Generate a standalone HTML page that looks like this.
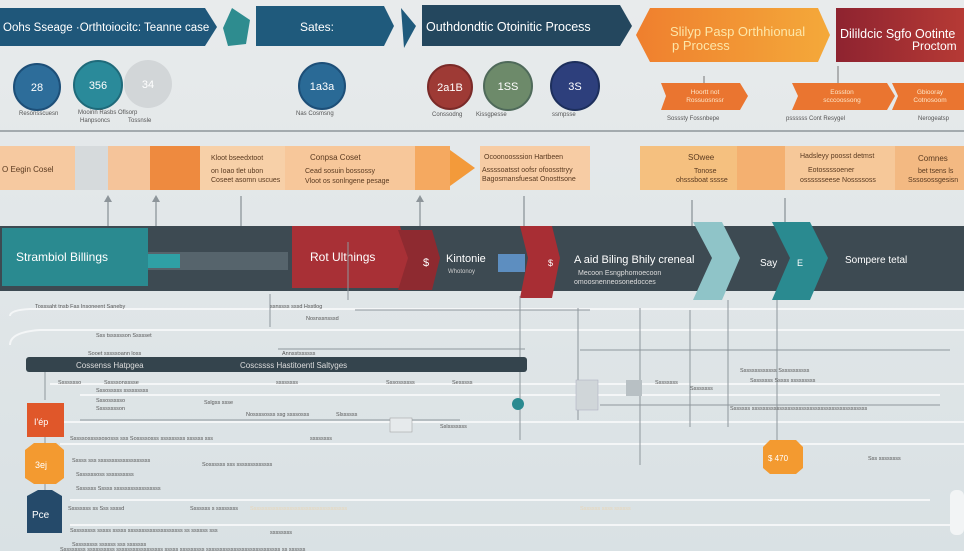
<!DOCTYPE html>
<html><head><meta charset="utf-8"><style>
html,body{margin:0;padding:0;background:#e4e8ea;}
svg{display:block;font-family:"Liberation Sans",sans-serif;}
</style></head><body>
<svg width="964" height="551" viewBox="0 0 964 551" xmlns="http://www.w3.org/2000/svg">
<defs>
<linearGradient id="bg" x1="0" y1="0" x2="0" y2="1"><stop offset="0" stop-color="#e8ebec"/><stop offset="1" stop-color="#d9e1e4"/></linearGradient>
<linearGradient id="og" x1="0" y1="0" x2="1" y2="0"><stop offset="0" stop-color="#ef7f2e"/><stop offset="1" stop-color="#f4a93a"/></linearGradient>
<linearGradient id="rg" x1="0" y1="0" x2="1" y2="0"><stop offset="0" stop-color="#8e2330"/><stop offset="1" stop-color="#b63a35"/></linearGradient>
</defs>
<rect width="964" height="551" fill="url(#bg)"/>
<polygon points="0,8 205,8 217,27 205,46 0,46" fill="#1f577a"/>
<text x="3" y="31" font-size="11.5" fill="#fff">Oohs Sseage ·Orthtoiocitc: Teanne case</text>
<polygon points="232,8 250,20 246,44 228,46 223,28" fill="#2e8c8f"/>
<polygon points="256,6 384,6 394,26 384,46 256,46" fill="#1f5a7c"/>
<text x="300" y="31" font-size="12" fill="#fff">Sates:</text>
<polygon points="401,8 416,26 404,48" fill="#1f5a7c"/>
<polygon points="422,5 620,5 632,26 620,46 422,46" fill="#24475e"/>
<text x="426" y="31" font-size="12.5" fill="#fff">Outhdondtic Otoinitic Process</text>
<polygon points="650,8 818,8 830,35 818,62 650,62 636,35" fill="url(#og)"/>
<text x="670" y="36" font-size="13" fill="#fde6a8">Slilyp Pasp Orthhionual</text>
<text x="672" y="50" font-size="13" fill="#fde6a8">p Process</text>
<rect x="836" y="8" width="128" height="54" fill="url(#rg)"/>
<text x="840" y="38" font-size="12.5" fill="#fff">Dilildcic Sgfo Ootinte</text>
<text x="912" y="50" font-size="12" fill="#fff">Proctom</text>
<g font-size="11" fill="#fff" text-anchor="middle">
<circle cx="37" cy="87" r="23" fill="#2d6d9a" stroke="#1d4f78" stroke-width="2"/><text x="37" y="91">28</text>
<circle cx="98" cy="85" r="24" fill="#2a8a9a" stroke="#1f6a7a" stroke-width="2"/><text x="98" y="89">356</text>
<circle cx="148" cy="84" r="24" fill="#d2d6d8"/><text x="148" y="88">34</text>
<circle cx="322" cy="86" r="23" fill="#2a6a96" stroke="#1d4f78" stroke-width="2"/><text x="322" y="90">1a3a</text>
<circle cx="450" cy="87" r="22" fill="#9e3a35" stroke="#7a2a28" stroke-width="2"/><text x="450" y="91">2a1B</text>
<circle cx="508" cy="86" r="24" fill="#6d8a6a" stroke="#4f6a5a" stroke-width="2"/><text x="508" y="90">1SS</text>
<circle cx="575" cy="86" r="24" fill="#2d3f7c" stroke="#1d2f5c" stroke-width="2"/><text x="575" y="90">3S</text>
</g>
<g font-size="6" fill="#555">
<text x="19" y="115">Resonsscuesn</text><text x="78" y="114">Mooinn Rasbs Oflsorp</text><text x="80" y="122">Hanpsoncs</text><text x="128" y="122">Tossnsle</text>
<text x="296" y="115">Nas Cosmsng</text><text x="432" y="116">Conssodng</text><text x="476" y="116">Kissgpesse</text><text x="552" y="116">ssmpsse</text>
<text x="667" y="120">Sosssty Fossnbepe</text><text x="786" y="120">pssssss Cont Resygel</text><text x="918" y="120">Nerogeatsp</text>
</g>
<polygon points="661,83 740,83 748,96 740,110 661,110 666,96" fill="#ea7530"/>
<polygon points="792,83 887,83 895,96 887,110 792,110 798,96" fill="#ea7530"/>
<polygon points="892,83 964,83 964,110 892,110 898,96" fill="#ea7530"/>
<g font-size="6.5" fill="#fde6c8" text-anchor="middle"><text x="705" y="94">Hoortt not</text><text x="705" y="102">Rossuosnssr</text><text x="842" y="94">Eosston</text><text x="842" y="102">scccoossong</text><text x="930" y="94">Gbiooray</text><text x="930" y="102">Cotnosoom</text></g>
<line x1="0" y1="131" x2="964" y2="131" stroke="#8d959a" stroke-width="1.5"/>
<line x1="704" y1="76" x2="704" y2="83" stroke="#777"/><line x1="838" y1="66" x2="838" y2="83" stroke="#777"/>
<rect x="0" y="146" width="75" height="44" fill="#f6c9a0"/>
<rect x="75" y="146" width="33" height="44" fill="#d6dadc"/>
<rect x="108" y="146" width="42" height="44" fill="#f5c49a"/>
<rect x="150" y="146" width="50" height="44" fill="#ee8a3f"/>
<rect x="200" y="146" width="85" height="44" fill="#f7d0a8"/>
<rect x="285" y="146" width="130" height="44" fill="#f7c79a"/>
<rect x="415" y="146" width="35" height="44" fill="#f5a960"/>
<polygon points="450,150 475,168 450,186" fill="#f39a3a"/>
<rect x="480" y="146" width="110" height="44" fill="#f7cca4"/>
<rect x="640" y="146" width="97" height="44" fill="#f5c07f"/>
<rect x="737" y="146" width="48" height="44" fill="#f4b070"/>
<rect x="785" y="146" width="110" height="44" fill="#f6c899"/>
<rect x="895" y="146" width="69" height="44" fill="#f3b982"/>
<g font-size="7" fill="#5a3a20">
<text x="2" y="172" font-size="8">O Eegin Cosel</text>
<text x="211" y="160">Kloot bseedxtoot</text><text x="211" y="173">on Ioao tlet ubon</text><text x="211" y="182">Coseet asomn uscues</text>
<text x="310" y="160" font-size="8">Conpsa Coset</text><text x="305" y="173">Cead sosuin bossossy</text><text x="305" y="183">Vloot os sonlngene pesage</text>
<text x="484" y="159">Ocoonoosssion Hartbeen</text><text x="482" y="172">Assssoatsst oofsr ofoossttryy</text><text x="482" y="181">Bagosmansfuesat Onosttsone</text>
<text x="688" y="160" font-size="8">SOwee</text><text x="694" y="173">Tonose</text><text x="676" y="182">ohsssboat sssse</text>
<text x="800" y="158">Hadsleyy poosst detmst</text><text x="808" y="172">Eotossssoener</text><text x="800" y="182">osssssseese Nossssoss</text>
<text x="918" y="161" font-size="8">Comnes</text><text x="918" y="173">bet tsens ls</text><text x="908" y="182">Sssosossgesisn</text>
</g>
<g stroke="#8d959a" stroke-width="1.3" fill="none">
<line x1="108" y1="226" x2="108" y2="198"/><line x1="156" y1="226" x2="156" y2="198"/><line x1="241" y1="226" x2="241" y2="196"/><line x1="420" y1="226" x2="420" y2="198"/><line x1="524" y1="226" x2="524" y2="196"/><line x1="692" y1="226" x2="692" y2="200"/><line x1="785" y1="226" x2="785" y2="198"/>
</g>
<g fill="#8d959a"><polygon points="104,202 108,195 112,202"/><polygon points="152,202 156,195 160,202"/><polygon points="416,202 420,195 424,202"/></g>
<rect x="0" y="226" width="964" height="65" fill="#3d4a52"/>
<rect x="2" y="228" width="146" height="58" fill="#2a8a90"/>
<text x="16" y="261" font-size="12" fill="#fff">Strambiol Billings</text>
<rect x="148" y="252" width="140" height="18" fill="#56646c"/>
<rect x="148" y="254" width="32" height="14" fill="#2fa0a5"/>
<polygon points="292,226 400,226 410,258 400,288 292,288" fill="#a83036"/>
<text x="310" y="261" font-size="12" fill="#fff">Rot Ulthings</text>
<polygon points="398,230 432,230 440,258 432,290 398,290 408,258" fill="#8e2a30"/>
<text x="423" y="266" font-size="11" fill="#fff">$</text>
<text x="446" y="262" font-size="11" fill="#fff">Kintonie</text><text x="448" y="273" font-size="6" fill="#ccc">Whotonoy</text>
<rect x="498" y="254" width="27" height="18" fill="#5d8ec0"/>
<polygon points="520,226 552,226 560,258 552,298 520,298 528,258" fill="#a82e34"/>
<text x="548" y="266" font-size="9" fill="#fff">$</text>
<text x="574" y="263" font-size="11" fill="#fff">A aid Biling Bhily creneal</text>
<text x="578" y="275" font-size="7" fill="#ddd">Mecoon Esngphomoecoon</text><text x="574" y="284" font-size="7" fill="#ddd">omoosnenneosonedocces</text>
<polygon points="693,222 722,222 740,258 722,300 693,300 712,258" fill="#8fc4c8"/>
<text x="760" y="266" font-size="10" fill="#fff">Say</text>
<polygon points="772,222 810,222 828,258 810,300 772,300 790,258" fill="#2a8a90"/>
<text x="797" y="266" font-size="9" fill="#fff">E</text>
<text x="845" y="263" font-size="10" fill="#fff">Sompere tetal</text>
<g stroke="#f4f6f7" stroke-width="2" fill="none">
<path d="M10,316 Q10,310 30,309 L964,309"/><path d="M10,345 Q10,332 40,330 L964,330"/><path d="M50,384 L964,384"/><path d="M50,422 L964,422"/><path d="M60,444 L964,444"/><path d="M70,500 L930,500"/><path d="M70,525 L960,525"/><path d="M80,395 L940,395"/>
</g>
<g stroke="#8e979c" stroke-width="1" fill="none">
<line x1="270" y1="294" x2="270" y2="327"/><line x1="520" y1="296" x2="520" y2="440"/><line x1="578" y1="308" x2="578" y2="420"/><line x1="640" y1="308" x2="640" y2="465"/><line x1="690" y1="310" x2="690" y2="427"/><line x1="728" y1="300" x2="728" y2="427"/><line x1="777" y1="300" x2="777" y2="440"/>
<line x1="348" y1="242" x2="348" y2="300"/><line x1="80" y1="420" x2="460" y2="420"/><line x1="600" y1="405" x2="940" y2="405"/><line x1="580" y1="350" x2="950" y2="350"/><line x1="355" y1="310" x2="590" y2="310"/><line x1="278" y1="349" x2="525" y2="349"/>
<line x1="45" y1="372" x2="45" y2="400"/><line x1="45" y1="437" x2="45" y2="445"/><line x1="45" y1="484" x2="45" y2="492"/>
</g>
<rect x="26" y="357" width="501" height="15" rx="3" fill="#34444d"/>
<text x="76" y="368" font-size="8" fill="#ddd">Cossenss Hatpgea</text><text x="240" y="368" font-size="8" fill="#ddd">Coscssss Hastitoentl Saltyges</text>
<circle cx="518" cy="404" r="6" fill="#2a8a90"/>
<rect x="576" y="380" width="22" height="30" fill="#d0d6d9" stroke="#aab" stroke-width="0.5"/>
<rect x="626" y="380" width="16" height="16" fill="#b8c0c4"/>
<rect x="390" y="418" width="22" height="14" fill="#e6eaec" stroke="#999" stroke-width="0.5"/>
<rect x="27" y="403" width="37" height="34" fill="#e0572a"/><text x="34" y="425" font-size="9" fill="#fff">I'ép</text>
<polygon points="25,450 34,443 56,443 64,450 64,478 56,484 34,484 25,478" fill="#f39a30"/><text x="35" y="468" font-size="9" fill="#fff">3ej</text>
<polygon points="27,496 38,490 52,490 62,496 62,533 27,533" fill="#254a6a"/><text x="32" y="518" font-size="10" fill="#fff">Pce</text>
<polygon points="763,447 770,440 796,440 803,447 803,468 796,474 770,474 763,468" fill="#f39a30"/><text x="768" y="461" font-size="8" fill="#fff">$ 470</text>
<rect x="950" y="490" width="14" height="45" rx="6" fill="#f2f4f5"/>
<g font-size="5.5" fill="#555">
<text x="35" y="308">Tosssaht tnsb Fas Insoneent Saneby</text><text x="270" y="308">ssnssss sssd Hsstlog</text><text x="306" y="320">Nosnssnsssd</text>
<text x="96" y="337">Sss tsssssson Ssssset</text><text x="88" y="355">Sooet sssssoann loss</text><text x="282" y="355">Annsstssssss</text>
<text x="58" y="384">Ssssssso</text><text x="104" y="384">Sssssonsssse</text><text x="276" y="384">ssssssss</text><text x="386" y="384">Sssossssss</text><text x="452" y="384">Sesssss</text>
<text x="96" y="392">Sssosssss sssssssss</text><text x="96" y="402">Sssossssso</text><text x="96" y="410">Sssssssson</text><text x="204" y="404">Sslgss ssse</text><text x="246" y="416">Nossssosss ssg ssssosss</text><text x="336" y="416">Slssssss</text><text x="440" y="428">Sslsssssss</text>
<text x="70" y="440">Sssssosssssososss sss Sossssosss sssssssss ssssss sss</text><text x="310" y="440">ssssssss</text>
<text x="72" y="462">Sssss sss sssssssssssssssssss</text><text x="202" y="466">Sossssss sss sssssssssssss</text><text x="76" y="476">Sssssssoss ssssssssss</text><text x="76" y="490">Sssssss Sssss sssssssssssssssss</text>
<text x="68" y="510">Ssssssss ss Sss ssssd</text><text x="190" y="510">Sssssss s ssssssss</text><text x="250" y="510" fill="#e8d5b5">Sssssssssssssssssssssssssssssssssss</text><text x="580" y="510" fill="#e8d5b5">Sssssss ssss ssssss</text>
<text x="70" y="532">Sssssssss sssss sssss ssssssssssssssssssss ss ssssss sss</text><text x="270" y="534">ssssssss</text><text x="72" y="546">Sssssssss ssssss sss sssssss</text>
<text x="60" y="551">Sssssssss ssssssssss sssssssssssssssss sssss sssssssss sssssssssssssssssssssssssss ss ssssss</text>
<text x="740" y="372">Sssssssssssss Sssssssssss</text><text x="750" y="382">Ssssssss Sssss sssssssss</text><text x="655" y="384">Ssssssss</text><text x="690" y="390">Ssssssss</text>
<text x="730" y="410">Sssssss ssssssssssssssssssssssssssssssssssssssssss</text><text x="868" y="460">Sss ssssssss</text>
</g>
</svg>
</body></html>
